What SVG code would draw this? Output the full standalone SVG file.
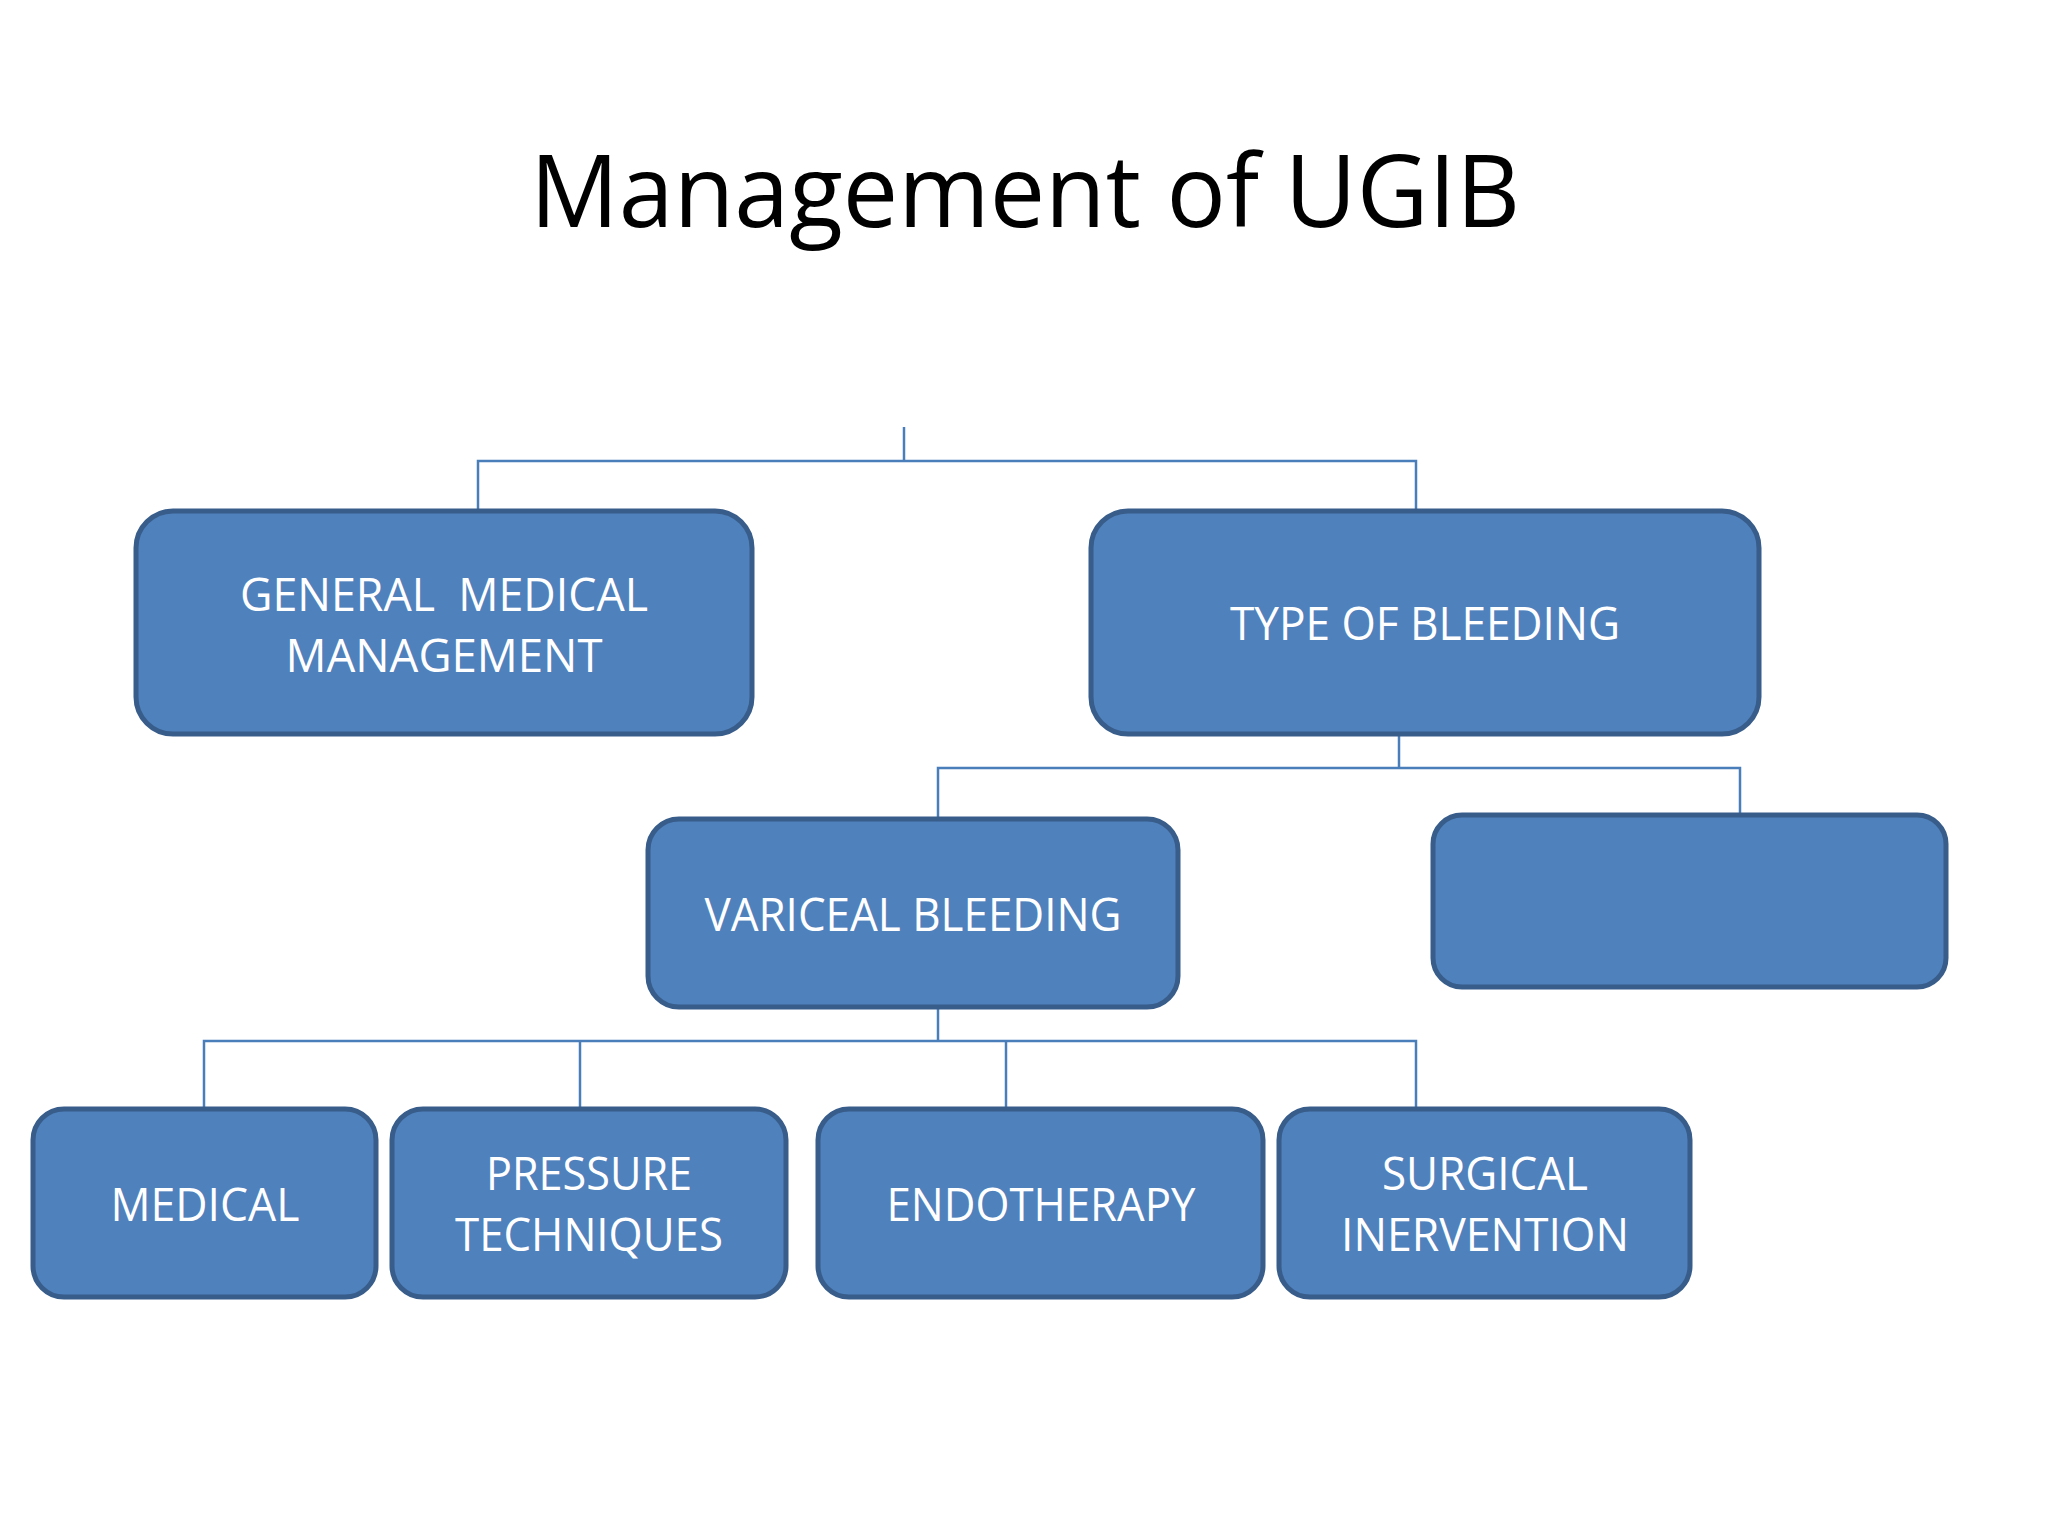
<svg xmlns="http://www.w3.org/2000/svg" width="2048" height="1536" viewBox="0 0 2048 1536">
<style>
.box{fill:#4F81BD;stroke:#385D8A;stroke-width:5}
.lbl{font-family:"Open Sans","Liberation Sans",sans-serif;font-size:46px;fill:#FFFFFF;text-anchor:middle;white-space:pre}
.conn{fill:none;stroke:#4A7EBB;stroke-width:2.5}
.title{font-family:"Open Sans","Liberation Sans",sans-serif;font-size:100px;fill:#000000;text-anchor:middle}
</style>
<rect width="2048" height="1536" fill="#FFFFFF"/>
<text class="title" x="1025" y="227" textLength="990" lengthAdjust="spacingAndGlyphs">Management of UGIB</text>
<g id="connectors">
<path class="conn" d="M904 427 V461"/>
<path class="conn" d="M478 511 V461 H1416 V511"/>
<path class="conn" d="M1399 734 V768"/>
<path class="conn" d="M938 819 V768 H1740 V815"/>
<path class="conn" d="M938 1007 V1041"/>
<path class="conn" d="M204 1109 V1041 H1416 V1109"/>
<path class="conn" d="M580 1041 V1109"/>
<path class="conn" d="M1006 1041 V1109"/>
</g>
<g id="general">
<rect class="box" x="136" y="511" width="616" height="223" rx="37"/>
<text class="lbl" x="444" y="611" textLength="408" lengthAdjust="spacingAndGlyphs">GENERAL  MEDICAL</text>
<text class="lbl" x="444" y="672" textLength="317" lengthAdjust="spacingAndGlyphs">MANAGEMENT</text>
</g>
<g id="type">
<rect class="box" x="1091" y="511" width="668" height="223" rx="37"/>
<text class="lbl" x="1425" y="640" textLength="390" lengthAdjust="spacingAndGlyphs">TYPE OF BLEEDING</text>
</g>
<g id="variceal">
<rect class="box" x="648" y="819" width="530" height="188" rx="31"/>
<text class="lbl" x="913" y="931" textLength="417" lengthAdjust="spacingAndGlyphs">VARICEAL BLEEDING</text>
</g>
<g id="empty">
<rect class="box" x="1433" y="815" width="513" height="172" rx="29"/>
</g>
<g id="medical">
<rect class="box" x="33" y="1109" width="343" height="188" rx="31"/>
<text class="lbl" x="205" y="1221" textLength="189" lengthAdjust="spacingAndGlyphs">MEDICAL</text>
</g>
<g id="pressure">
<rect class="box" x="392" y="1109" width="394" height="188" rx="31"/>
<text class="lbl" x="589" y="1190" textLength="206" lengthAdjust="spacingAndGlyphs">PRESSURE</text>
<text class="lbl" x="589" y="1251" textLength="268" lengthAdjust="spacingAndGlyphs">TECHNIQUES</text>
</g>
<g id="endotherapy">
<rect class="box" x="818" y="1109" width="445" height="188" rx="31"/>
<text class="lbl" x="1041" y="1221" textLength="309" lengthAdjust="spacingAndGlyphs">ENDOTHERAPY</text>
</g>
<g id="surgical">
<rect class="box" x="1279" y="1109" width="411" height="188" rx="31"/>
<text class="lbl" x="1485" y="1190" textLength="206" lengthAdjust="spacingAndGlyphs">SURGICAL</text>
<text class="lbl" x="1485" y="1251" textLength="288" lengthAdjust="spacingAndGlyphs">INERVENTION</text>
</g>
</svg>
